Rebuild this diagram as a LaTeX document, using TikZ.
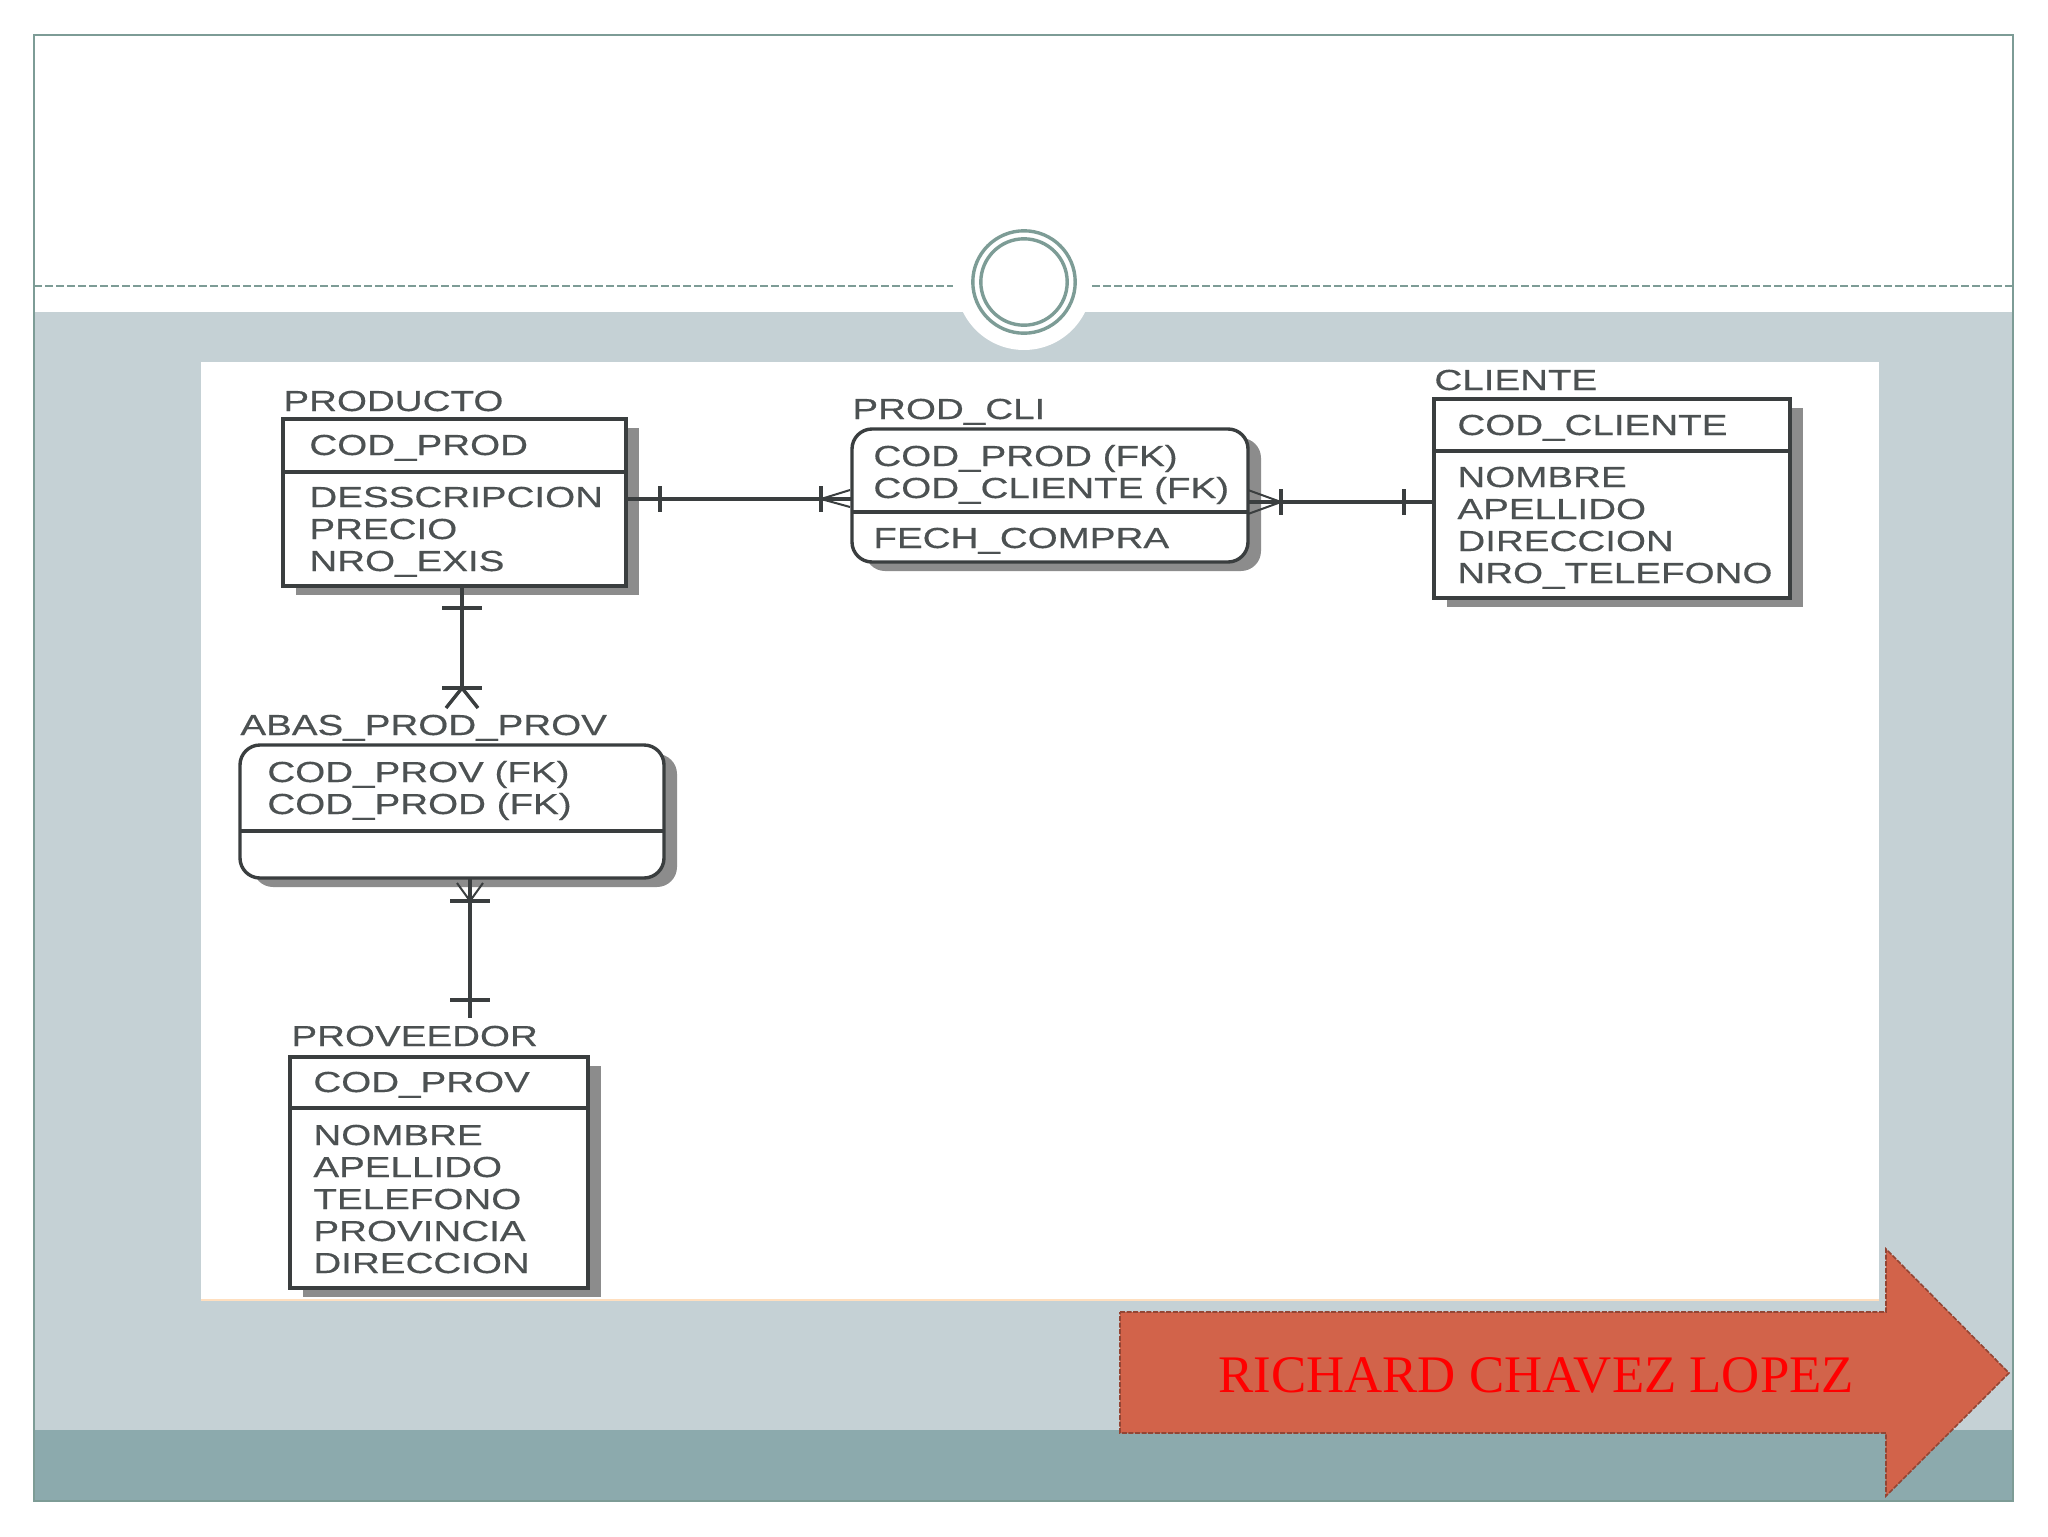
\documentclass[tikz,border=0pt]{standalone}
\usepackage{fontspec}
\usetikzlibrary{positioning, shadows}
\newfontfamily\erfont[FakeStretch=1.33,FakeBold=0.4]{Liberation Sans}
\newfontfamily\namefont{Liberation Serif}
\definecolor{framecol}{HTML}{7D9C96}
\definecolor{bandcol}{HTML}{C5D1D5}
\definecolor{footcol}{HTML}{8CAAAD}
\definecolor{inkcol}{HTML}{4C5152}
\definecolor{linecol}{HTML}{3A3E3F}
\definecolor{arrowcol}{HTML}{D2634A}
\tikzset{
  erbox/.style={draw=linecol,fill=white,line width=1.7pt,inner sep=0pt,outer sep=0pt,anchor=north west,
    drop shadow={shadow xshift=6.5pt,shadow yshift=-4.5pt,fill=gray,opacity=.9}},
  erround/.style={erbox,rounded corners=10pt},
  ertext/.style={font=\erfont\fontsize{14.5}{16}\selectfont,text=inkcol,inner sep=0pt,anchor=base west,align=left},
  erline/.style={draw=linecol,line width=1.7pt},
}
\begin{document}
\begin{tikzpicture}[x=0.5pt,y=-0.5pt]
    \useasboundingbox (0,0) rectangle (2048,1536);

    \fill[bandcol] (34,312) rectangle (2013,1430);
    \fill[footcol] (34,1430) rectangle (2013,1501);
    \draw[framecol,line width=1pt] (34,35) rectangle (2013,1501);
    \draw[framecol,line width=.7pt,dash pattern=on 4pt off 1.5pt] (34,286) -- (953,286);
    \draw[framecol,line width=.7pt,dash pattern=on 4pt off 1.5pt] (1092,286) -- (2013,286);
    \fill[white] (1024,282) circle (34pt);
    \draw[framecol,line width=1.7pt] (1024,282) circle (25.6pt);
    \draw[framecol,line width=1.7pt] (1024,282) circle (21.6pt);

    \fill[white] (201,362) rectangle (1879,1300);
    \draw[orange!25,line width=1pt] (201,1300) -- (1879,1300);

    \node[erbox,minimum width=171.5pt,minimum height=83.5pt] (box producto) at (283,419) {};
    \node[erround,minimum width=198pt,minimum height=66.5pt] (box prodcli) at (852,429) {};
    \node[erbox,minimum width=178pt,minimum height=99.5pt] (box cliente) at (1434,399) {};
    \node[erround,minimum width=212pt,minimum height=66.5pt] (box abas) at (240,745) {};
    \node[erbox,minimum width=149pt,minimum height=115.5pt] (box proveedor) at (290,1057) {};

    \foreach \name/\dy in {producto/53,prodcli/83,cliente/52,abas/86,proveedor/51}
    \draw[erline] (box \name.north west) ++(0,\dy) coordinate (cut) -- (cut -| box \name.east);

    \node[ertext] (title producto) at (283,411) {PRODUCTO};
    \node[ertext] (key producto) at (309,455) {COD\_PROD};
    \node[ertext] (attr producto) at (309,571) {DESSCRIPCION\\PRECIO\\NRO\_EXIS};

    \node[ertext] (title prodcli) at (852,419) {PROD\_CLI};
    \node[ertext] (key prodcli) at (873,498) {COD\_PROD (FK)\\COD\_CLIENTE (FK)};
    \node[ertext] (attr prodcli) at (873,548) {FECH\_COMPRA};

    \node[ertext] (title cliente) at (1434,390) {CLIENTE};
    \node[ertext] (key cliente) at (1457,435) {COD\_CLIENTE};
    \node[ertext] (attr cliente) at (1457,583) {NOMBRE\\APELLIDO\\DIRECCION\\NRO\_TELEFONO};

    \node[ertext] (title abas) at (240,735) {ABAS\_PROD\_PROV};
    \node[ertext] (key abas) at (267,814) {COD\_PROV (FK)\\COD\_PROD (FK)};

    \node[ertext] (title proveedor) at (291,1046) {PROVEEDOR};
    \node[ertext] (key proveedor) at (313,1092) {COD\_PROV};
    \node[ertext] (attr proveedor) at (313,1273) {NOMBRE\\APELLIDO\\TELEFONO\\PROVINCIA\\DIRECCION};

    \coordinate (lane a) at (0,499);
    \coordinate (lane b) at (0,502);
    \coordinate (lane c) at (462,0);
    \coordinate (lane d) at (470,0);
    \coordinate (end c) at (462,690);
    \coordinate (end d) at (470,1018);

    \draw[erline] (box producto.east |- lane a) -- (box prodcli.west |- lane a);
    \draw[erline] (box prodcli.east |- lane b) -- (box cliente.west |- lane b);
    \draw[erline] (box producto.south -| lane c) -- (end c);
    \draw[erline] (box abas.south -| lane d) -- (end d);

    \foreach \x/\y in {660/499,821/499,1281/502,1404/502}
    \draw[erline] (\x,\y-13) -- (\x,\y+13);
    \foreach \x/\y in {462/608,462/688,470/901,470/1000}
    \draw[erline] (\x-20,\y) -- (\x+20,\y);

    \draw[erline,line width=1pt] (850,490) -- (821,499) -- (850,507);
    \draw[erline,line width=1pt] (1248,490) -- (1281,502) -- (1248,514);
    \draw[erline] (446,708) -- (462,688) -- (478,708);
    \draw[erline,line width=1pt] (457,883) -- (470,901) -- (483,883);

    \draw[draw=arrowcol!70!black,fill=arrowcol,line width=.8pt,dash pattern=on 2.5pt off .8pt]
      (1120,1312) -- (1886,1312) -- (1886,1249) -- (2009,1373) -- (1886,1496) -- (1886,1433) -- (1120,1433) -- cycle;
    \node[font=\namefont\fontsize{26.4}{30}\selectfont,text=red,inner sep=0pt,anchor=base west] (name) at (1218,1392) {RICHARD CHAVEZ LOPEZ};
\end{tikzpicture}
\end{document}
